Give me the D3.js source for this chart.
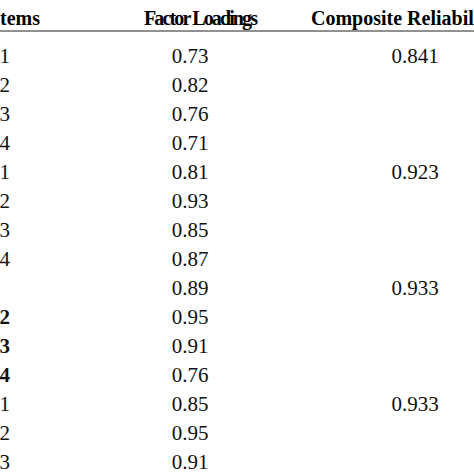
<!DOCTYPE html>
<html><head><meta charset="utf-8">
<script src="https://cdn.jsdelivr.net/npm/d3@7"></script>
<style>body{margin:0;background:#fff}</style>
</head><body>
<script>
// table values
const items = ["1","2","3","4","1","2","3","4","","2","3","4","n1","n 2","n 3"];
const loadings = [0.73,0.82,0.76,0.71,0.81,0.93,0.85,0.87,0.89,0.95,0.91,0.76,0.85,0.95,0.91];
const reliability = ["0.841","","","","0.923","","","","0.933","","","","0.933","",""];
const headers = ["Items","Factor Loadings","Composite Reliability"];

const width = 474, height = 474;
const svg = d3.select("body").append("svg")
  .attr("width", width).attr("height", height)
  .style("font-family", "'Liberation Serif', serif");

const y = d3.scaleLinear().domain([0, 1]).range([63, 92]); // row index -> baseline

// header
svg.append("text").attr("x", 40).attr("y", 25).attr("text-anchor", "end")
  .attr("font-weight", "bold").attr("font-size", 20).text(headers[0]);
svg.append("text").attr("x", 201).attr("y", 25).attr("text-anchor", "middle")
  .attr("font-weight", "bold").attr("font-size", 20).attr("textLength", 114).text(headers[1]);
svg.append("text").attr("x", 311).attr("y", 25)
  .attr("font-weight", "bold").attr("font-size", 20).text(headers[2]);

svg.append("line").attr("x1", 0).attr("x2", width).attr("y1", 31).attr("y2", 31)
  .attr("stroke", "#222").attr("stroke-width", 1);

const rows = svg.selectAll(".row").data(d3.range(items.length)).enter()
  .append("g").attr("transform", i => `translate(0,${y(i)})`)
  .attr("font-size", 21).attr("fill", "#111");

rows.append("text").attr("x", 10).attr("text-anchor", "end")
  .attr("font-weight", i => (i >= 8 && i < 12) ? "bold" : "normal")
  .text(i => items[i]);
rows.append("text").attr("x", 190).attr("text-anchor", "middle")
  .text(i => loadings[i].toFixed(2));
rows.append("text").attr("x", 415).attr("text-anchor", "middle")
  .text(i => reliability[i]);
</script>
</body></html>
